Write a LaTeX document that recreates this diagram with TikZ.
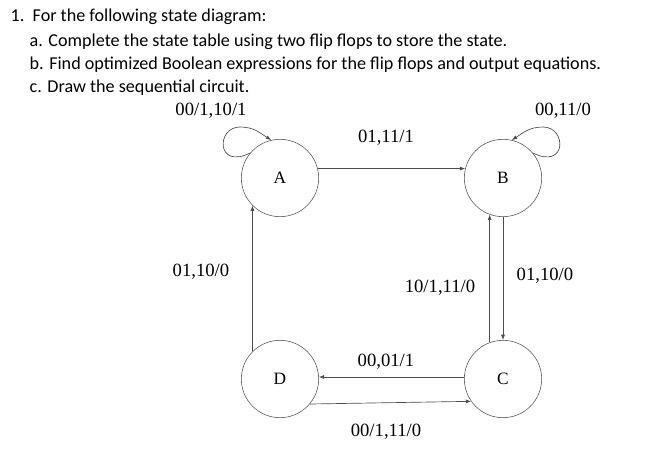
\documentclass[tikz,border=0pt]{standalone}
\usepackage{fontspec}
\setmainfont{Liberation Serif}
\newfontfamily\hdr{Carlito}
\usetikzlibrary{arrows.meta}
\begin{document}
\begin{tikzpicture}[x=0.75pt,y=-0.75pt,
  st/.style={draw=black!70,circle,minimum size=58pt,inner sep=0pt,font=\fontsize{13}{15}\selectfont},
  lbl/.style={font=\fontsize{14}{16}\selectfont},
  hd/.style={anchor=west,font=\hdr\fontsize{13.6}{16}\selectfont},
  ed/.style={draw=black!70,line width=0.5pt,-{Latex[length=4pt,width=3pt]}}]
\useasboundingbox (0,0) rectangle (651,460);
\node[hd] (h1) at (6,17) {1.\ \ For the following state diagram:};
\node[hd] (h2) at (25,42) {a. Complete the state table using two flip flops to store the state.};
\node[hd] (h3) at (25,65) {b. Find optimized Boolean expressions for the flip flops and output equations.};
\node[hd] (h4) at (25,88) {c. Draw the sequential circuit.};
\node[st] (A) at (280,178) {A};
\node[st] (B) at (503,178) {B};
\node[st] (C) at (503,379) {C};
\node[st] (D) at (280,379) {D};
\draw[ed] (A.14) -- (B.166);
\draw[ed] (A.140) .. controls (216,170) and (216,127) .. (240,127) .. controls (254,127) and (260,133) .. (A.103);
\draw[ed] (B.40) .. controls (567,170) and (567,127) .. (543,127) .. controls (529,127) and (523,133) .. (B.77);
\draw[ed] (D.135) -- (A.225);
\draw[ed] (B.270) -- (C.90);
\draw[ed] (C.110) -- (B.250);
\draw[ed] (C.177) -- (D.3);
\draw[ed] (D.-40) -- (C.-145);
\node[lbl] (l1) at (211,111) {00/1,10/1};
\node[lbl] (l2) at (563,111) {00,11/0};
\node[lbl] (l3) at (386,138) {01,11/1};
\node[lbl] (l4) at (201,272) {01,10/0};
\node[lbl] (l5) at (545,276) {01,10/0};
\node[lbl] (l6) at (440,288) {10/1,11/0};
\node[lbl] (l7) at (386,362) {00,01/1};
\node[lbl] (l8) at (386,432) {00/1,11/0};
\end{tikzpicture}
\end{document}
